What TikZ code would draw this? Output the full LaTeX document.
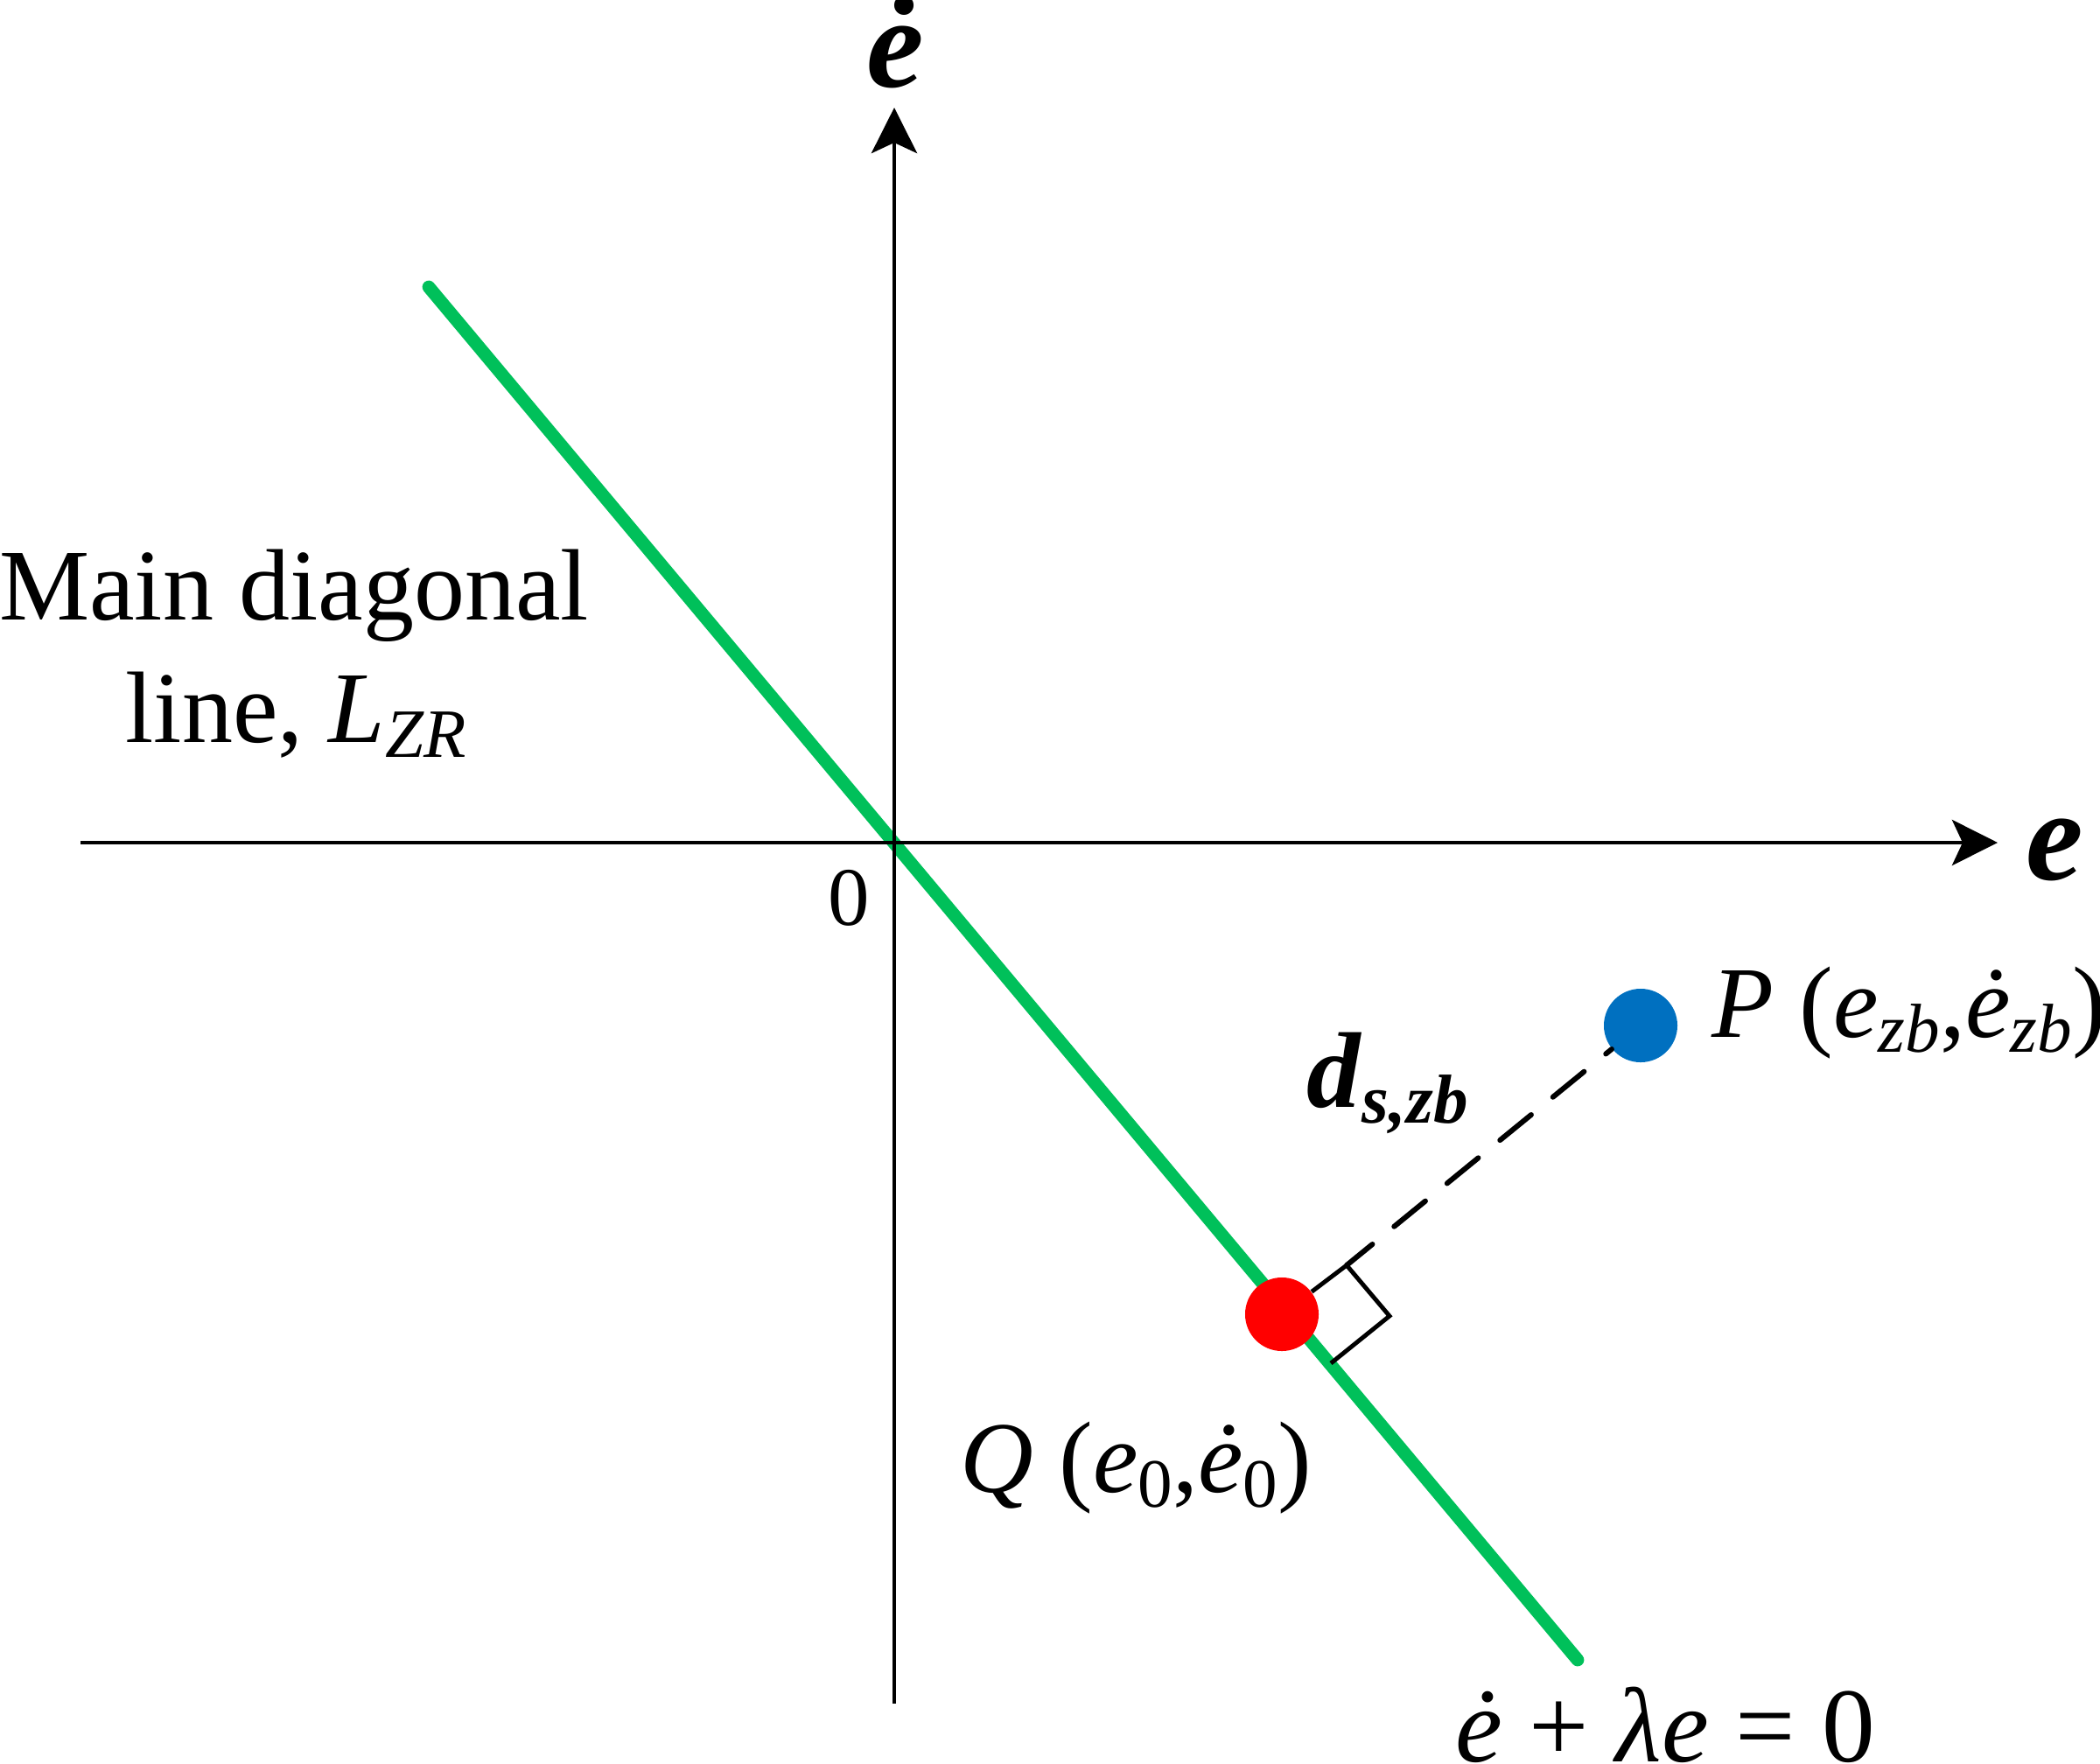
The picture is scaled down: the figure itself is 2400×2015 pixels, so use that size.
\documentclass[tikz,border=0pt]{standalone}
\usepackage{fontspec}
\setmainfont{Liberation Serif}
\usetikzlibrary{arrows.meta}
\definecolor{lgreen}{RGB}{0,192,90}
\definecolor{dotred}{RGB}{255,0,0}
\definecolor{dotblue}{RGB}{0,112,192}
\newcommand\lsub[1]{\raisebox{-0.15em}{\fontsize{22.5}{22.5}\selectfont #1}}
\begin{document}
\begin{tikzpicture}[x=0.01cm,y=-0.01cm,
  axis/.style={line width=1.4pt, -{Stealth[length=0.52cm,width=0.52cm,inset=0.12cm]}},
  lbl/.style={inner sep=0pt, font=\fontsize{33}{40}\selectfont},
  axlbl/.style={inner sep=0pt, font=\fontsize{42}{48}\selectfont\bfseries\itshape},
  dotnode/.style={circle, inner sep=0pt, minimum size=0.84cm},
  thin line/.style={line width=1.4pt},
]
\useasboundingbox (0,0) rectangle (2400,2015);
\coordinate (O) at (1022,963);
\coordinate (G1) at (490,328);
\coordinate (G2) at (1803,1897);
\coordinate (XL) at (92,963);
\coordinate (XR) at (2283,963);
\coordinate (YB) at (1022,1947);
\coordinate (YT) at (1022,123);
\coordinate (A) at (1539,1446);
\coordinate (B) at (1588,1504);
\coordinate (C) at (1521,1558);
% diagonal line
\draw[lgreen, line width=4.2pt, line cap=round] (G1) -- (G2);
% axes
\draw[axis] (XL) -- (XR);
\draw[axis] (YB) -- (YT);
% points
\node[dotnode, fill=dotred] (Q) at (1465,1502) {};
\node[dotnode, fill=dotblue] (P) at (1875,1172) {};
% right-angle marker and distance
\draw[thin line] (Q) -- (A) -- (B) -- (C);
\draw[line width=1.7pt, line cap=round, dash pattern=on 0.46cm off 0.32cm, dash phase=0.08cm] (A) -- (P);
% labels
\node[axlbl, anchor=base] (ylab) at (1023,100) {ė};
\node[axlbl, anchor=base] (xlab) at (2348,1005) {e};
\node[inner sep=0pt, font=\fontsize{27}{30}\selectfont, anchor=base] (zero) at (970,1057) {0};
\node[lbl, anchor=base] (main1) at (336,708) {Main diagonal};
\node[lbl, anchor=base] (main2) at (338,848) {line, \textit{L}\lsub{\textit{ZR}}};
\node[lbl, anchor=base west] (plab) at (1956,1185) {\textit{P} (\textit{e}\lsub{\textit{zb}},\textit{ė}\lsub{\textit{zb}})};
\node[lbl, anchor=base west] (qlab) at (1097,1705) {\textit{Q} (\textit{e}\lsub{0},\textit{ė}\lsub{0})};
\node[lbl, anchor=base west, font=\fontsize{35}{40}\selectfont] (dlab) at (1493,1265) {\textbf{\textit{d}}\lsub{\textbf{\textit{s,zb}}}};
\node[lbl, anchor=base west, font=\fontsize{34.5}{40}\selectfont] (eq) at (1663,2013) {\textit{ė} + \textit{λe} = 0};
\end{tikzpicture}
\end{document}
